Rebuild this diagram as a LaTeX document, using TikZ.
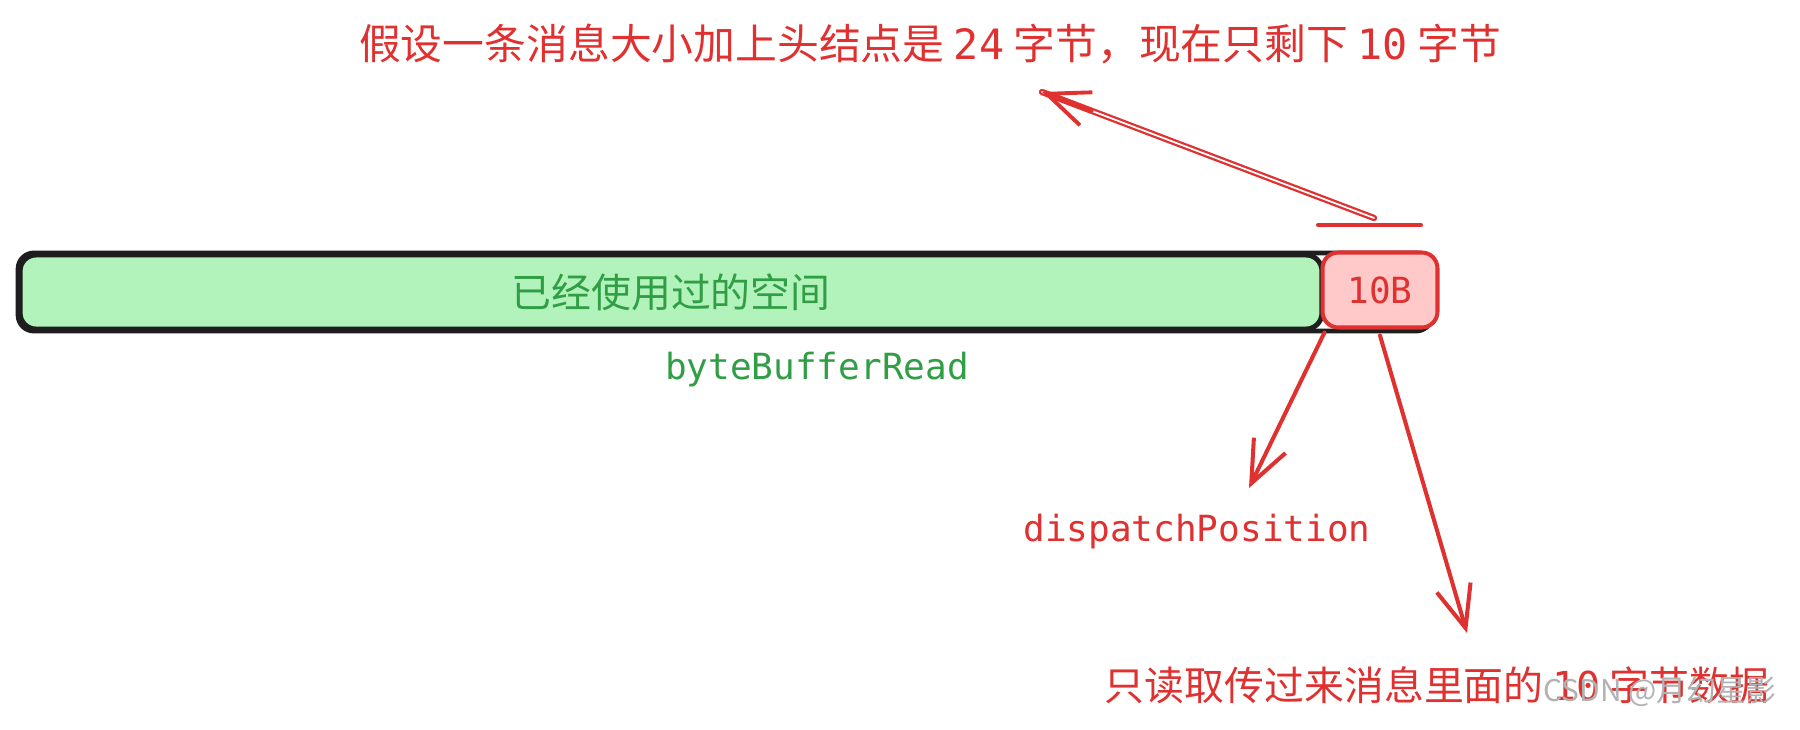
\documentclass[tikz,border=0pt]{standalone}
\usepackage{fontspec}
\setmainfont{Liberation Sans}
\setmonofont{DejaVu Sans Mono}
\newfontfamily\cjk{Noto Sans CJK SC}
\usepackage{tikz}
\usetikzlibrary{arrows.meta,positioning,calc}
\usepackage{xcolor}
\definecolor{exred}{HTML}{E03131}
\definecolor{expink}{HTML}{FFC9C9}
\definecolor{exgreen}{HTML}{B2F2BB}
\definecolor{exgtext}{HTML}{2F9E44}
\definecolor{exblack}{HTML}{1E1E1E}
\newcommand{\bigcjk}{\cjk\fontsize{22.7}{27}\selectfont}
\newcommand{\bigmono}{\ttfamily\fontsize{20.5}{24}\selectfont}

\begin{document}
\begin{tikzpicture}[
    x=0.02cm, y=-0.02cm,
    bufbox/.style={draw=exblack, line width=2.8pt, rounded corners=9pt, inner sep=0pt},
    usedbox/.style={bufbox, fill=exgreen, minimum width=26.04cm, minimum height=1.48cm, text=exgtext, font=\bigcjk},
    restbox/.style={draw=exred, fill=expink, line width=2.3pt, rounded corners=9pt, minimum width=2.3cm, minimum height=1.5cm, text=exred, font=\bigmono},
    redline/.style={draw=exred, line width=2.3pt, line cap=round},
    redarrow/.style={redline, -{Straight Barb[length=24pt, width=20pt]}}
]
\useasboundingbox (0,0) rectangle (1800,730);

% the buffer
\node[bufbox, minimum width=28.28cm, minimum height=1.56cm] (buf) at (725,292) {};
\node[usedbox] (used) at (671,292) {已经使用过的空间};
\node[restbox] (rest) at (1380,290) {10B};

\node[text=exgtext, font=\bigmono] (rdname) at (817,370) {byteBufferRead};
\node[text=exred, font=\bigmono] (dpname) at (1197,532) {dispatchPosition};

% notes
\node[text=exred, font=\cjk\fontsize{23.8}{28}\selectfont] (topnote) at (930,44)
    {假设一条消息大小加上头结点是 \texttt{24} 字节，现在只剩下 \texttt{10} 字节};
\node[text=exred, font=\bigcjk] (botnote) at (1437,685)
    {只读取传过来消息里面的 \texttt{10} 字节数据};
\node[text=black!30, font=\cjk\fontsize{17}{20}\selectfont] (mark) at (1660,692) {CSDN @月幻星影};

% marks and arrows
\coordinate (brkl) at (1318,225);
\coordinate (brkr) at (1421,225);
\coordinate (topfoot) at (1374,218);
\coordinate (toptip) at (1042,92);
\coordinate (dptip) at (1249,488);
\coordinate (rdtip) at (1467,633);

\draw[redline] (brkl) -- (brkr);
\draw[redline, line width=1.3pt, double=white, double distance=1pt] (topfoot) -- (toptip);
\draw[redarrow, line width=2.2pt] ($(topfoot)!0.85!(toptip)$) -- (toptip);
\draw[redarrow] ($(rest.south west)+(4,3)$) -- (dptip);
\draw[redarrow] ($(rest.south)+(0,6)$) -- (rdtip);
\end{tikzpicture}
\end{document}
